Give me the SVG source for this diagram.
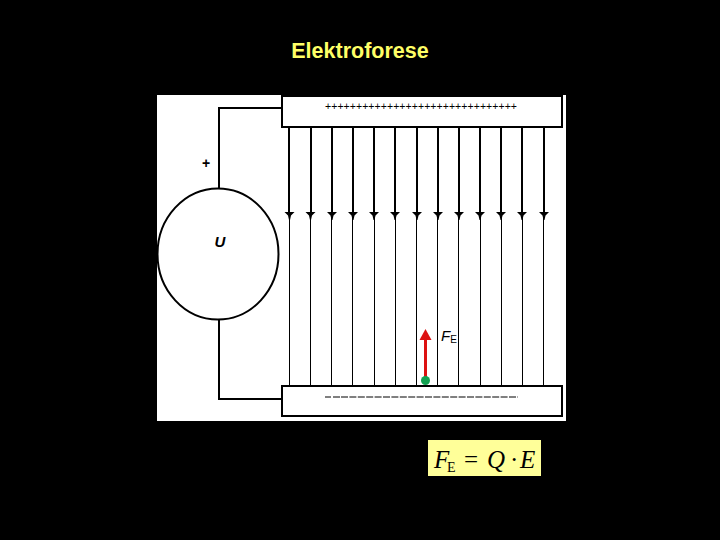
<svg xmlns="http://www.w3.org/2000/svg" width="720" height="540" viewBox="0 0 720 540">
<style>
.w{fill:none;stroke:#000;stroke-width:2}
.f{stroke:#000;stroke-width:2}
.t{stroke:#000;stroke-width:1}
.s{font-family:"Liberation Sans",Arial,sans-serif;fill:#000}
.m{font-family:"Liberation Serif","Times New Roman",serif;fill:#000}
</style>
<defs>
<path id="h" d="M-5 0H5L1.500 3.500 0.500 8H-0.500L-1.500 3.500Z" fill="#000"/>
</defs>
<rect width="720" height="540" fill="#000"/>
<rect x="157" y="95" width="409" height="326" fill="#fff"/>
<text x="360" y="58" text-anchor="middle" font-family="'Liberation Sans',Arial,sans-serif" font-size="21.500" font-weight="700" fill="#ffff66">Elektroforese</text>
<g id="connectors">
<path class="w" d="M282 108H219V188M219 320V399H282"/>
<g>
<path class="f" d="M289 127V213M311 127V213M332 127V213M353 127V213M374 127V213M395 127V213M417 127V213M438 127V213M459 127V213M480 127V213M501 127V213M522 127V213M544 127V213"/>
<path class="t" d="M289.500 218V386M310.500 218V386M331.500 218V386M352.500 218V386M374.500 218V386M395.500 218V386M416.500 218V386M437.500 218V386M458.500 218V386M480.500 218V386M501.500 218V386M522.500 218V386M543.500 218V386"/>
<use href="#h" x="289.500" y="212"/><use href="#h" x="310.500" y="212"/><use href="#h" x="332" y="212"/><use href="#h" x="353" y="212"/><use href="#h" x="374" y="212"/><use href="#h" x="395" y="212"/><use href="#h" x="417" y="212"/><use href="#h" x="438" y="212"/><use href="#h" x="459" y="212"/><use href="#h" x="480" y="212"/><use href="#h" x="501" y="212"/><use href="#h" x="522" y="212"/><use href="#h" x="544" y="212"/>
</g>
</g>
<g id="plate-top">
<rect x="282" y="96" width="280" height="31" fill="#fff" stroke="#000" stroke-width="2"/>
<text class="s" x="421" y="110" text-anchor="middle" font-size="10.500" font-weight="400" textLength="192" lengthAdjust="spacing">+++++++++++++++++++++++++++++++</text>
</g>
<g id="plate-bottom">
<rect x="282" y="386" width="280" height="30" fill="#fff" stroke="#000" stroke-width="2"/>
<path d="M325 397H331M333 397H340" stroke="#000" stroke-width="1"/>
<path d="M341 397H518" stroke="#000" stroke-width="1" stroke-dasharray="7 1.400"/>
</g>
<g id="source">
<ellipse cx="218" cy="254" rx="60.500" ry="65.500" fill="#fff" stroke="#000" stroke-width="2"/>
<text class="s" x="206" y="168" text-anchor="middle" font-size="14" font-weight="700">+</text>
<text class="s" x="220" y="247" text-anchor="middle" font-size="15" font-weight="700" font-style="italic">U</text>
</g>
<g id="force">
<path d="M425.500 378V338" stroke="#dd1111" stroke-width="3" fill="none"/>
<path d="M425.500 329L431.500 340H419.500Z" fill="#dd1111"/>
<circle cx="425.500" cy="380.500" r="4.500" fill="#11a050"/>
<text class="s" x="441" y="341" font-size="15" font-style="italic">F<tspan font-size="10" font-style="normal" dy="2">E</tspan></text>
</g>
<g id="formula">
<rect x="428" y="440" width="113" height="36" fill="#ffff99"/>
<text class="m" x="434" y="468" font-size="25" font-style="italic">F</text>
<text class="m" x="447" y="472" font-size="14">E</text>
<text class="m" x="464" y="468" font-size="25">=</text>
<text class="m" x="487" y="468" font-size="25" font-style="italic">Q</text>
<text class="m" x="510" y="468" font-size="25">·</text>
<text class="m" x="520" y="468" font-size="25" font-style="italic">E</text>
</g>
</svg>
